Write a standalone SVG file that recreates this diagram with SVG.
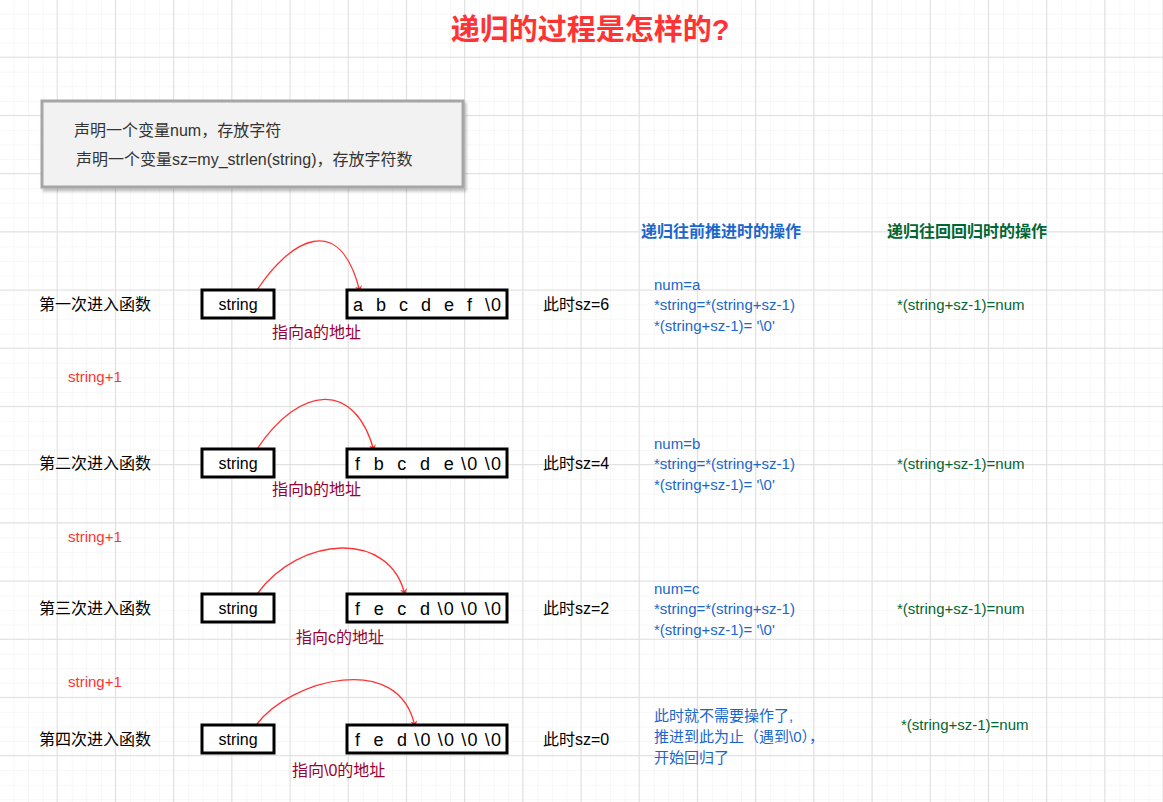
<svg xmlns="http://www.w3.org/2000/svg" width="1163" height="802" viewBox="0 0 1163 802">
<defs>
<pattern id="mi" width="14.55" height="14.55" patternUnits="userSpaceOnUse" x="-1" y="-1"><path d="M0 0H14.55M0 0V14.55" stroke="#f0f0f0" fill="none" stroke-width="1"/></pattern>
<pattern id="ma" width="58.2" height="58.2" patternUnits="userSpaceOnUse" x="-1.5" y="-1.5"><path d="M0 0.5H58.2M0.5 0V58.2" stroke="#dedede" fill="none" stroke-width="1"/></pattern>
<marker id="ah" viewBox="0 0 10 10" refX="9" refY="5" markerWidth="7" markerHeight="7" orient="auto" markerUnits="userSpaceOnUse"><path d="M0 0L10 5L0 10L3 5Z" fill="#ff3333"/></marker>
<filter id="sh"><feDropShadow dx="2" dy="3" stdDeviation="1.5" flood-color="#000" flood-opacity="0.25"/></filter>
<style>
text{font-family:"Liberation Sans","Noto Sans CJK SC",sans-serif;font-size:16px}
.lab{fill:#000}
.box{fill:#fff;stroke:#000;stroke-width:3}
.bt{font-size:16px;text-anchor:middle}
.arr{font-size:18px}
.red{fill:#ff3333;font-size:15px}
.ptr{fill:#990033;font-size:16px}
.blue{fill:#1a66cc;font-size:15px}
.green{fill:#006633;font-size:15px}
.cv{fill:none;stroke:#ff3333;stroke-width:1.3;marker-end:url(#ah)}
</style>
</defs>
<rect width="1163" height="802" fill="#fff"/>
<rect width="1163" height="802" fill="url(#mi)"/>
<rect width="1163" height="802" fill="url(#ma)"/>
<text x="590" y="40" text-anchor="middle" style="font-size:29px;font-weight:bold;fill:#ff3333">递归的过程是怎样的?</text>
<g id="decl">
<rect x="42" y="101" width="421" height="86" fill="#f2f2f2" stroke="#a6a6a6" stroke-width="3" filter="url(#sh)"/>
<text x="74" y="136" fill="#333">声明一个变量num，存放字符</text>
<text x="76" y="165" fill="#333">声明一个变量sz=my_strlen(string)，存放字符数</text>
</g>
<text x="641" y="237" style="font-weight:bold;fill:#1a66cc;font-size:16px">递归往前推进时的操作</text>
<text x="887" y="237" style="font-weight:bold;fill:#006633;font-size:16px">递归往回回归时的操作</text>
<g id="connectors">
<path class="cv" d="M257 290C290 240 340 210 360 292"/>
<path class="cv" d="M257 449C300 385 355 380 374 451"/>
<path class="cv" d="M257 594C300 535 390 530 405 595"/>
<path class="cv" d="M257 724C290 680 400 650 415 727"/>
</g>
<g id="row1">
<text x="39" y="310" class="lab">第一次进入函数</text>
<rect class="box" x="202" y="290" width="72" height="28"/><text x="238" y="310" class="bt">string</text>
<rect class="box" x="347" y="290" width="160" height="28"/><text x="353" y="311" class="arr" textLength="148" xml:space="preserve">a  b  c  d  e  f  \0</text>
<text x="272" y="338" class="ptr">指向a的地址</text>
<text x="543" y="310" class="lab">此时sz=6</text>
<text x="654" y="290" class="blue">num=a</text>
<text x="654" y="310" class="blue">*string=*(string+sz-1)</text>
<text x="654" y="331" class="blue">*(string+sz-1)= '\0'</text>
<text x="897" y="310" class="green">*(string+sz-1)=num</text>
</g>
<text x="68" y="382" class="red">string+1</text>
<g id="row2">
<text x="39" y="469" class="lab">第二次进入函数</text>
<rect class="box" x="202" y="449" width="72" height="28"/><text x="238" y="469" class="bt">string</text>
<rect class="box" x="347" y="449" width="160" height="28"/><text x="355" y="470" class="arr" textLength="146" xml:space="preserve">f  b  c  d  e \0 \0</text>
<text x="272" y="495" class="ptr">指向b的地址</text>
<text x="543" y="469" class="lab">此时sz=4</text>
<text x="654" y="449" class="blue">num=b</text>
<text x="654" y="469" class="blue">*string=*(string+sz-1)</text>
<text x="654" y="490" class="blue">*(string+sz-1)= '\0'</text>
<text x="897" y="469" class="green">*(string+sz-1)=num</text>
</g>
<text x="68" y="542" class="red">string+1</text>
<g id="row3">
<text x="39" y="614" class="lab">第三次进入函数</text>
<rect class="box" x="202" y="594" width="72" height="28"/><text x="238" y="614" class="bt">string</text>
<rect class="box" x="347" y="594" width="160" height="28"/><text x="355" y="615" class="arr" textLength="146" xml:space="preserve">f  e  c  d \0 \0 \0</text>
<text x="296" y="643" class="ptr">指向c的地址</text>
<text x="543" y="614" class="lab">此时sz=2</text>
<text x="654" y="594" class="blue">num=c</text>
<text x="654" y="614" class="blue">*string=*(string+sz-1)</text>
<text x="654" y="635" class="blue">*(string+sz-1)= '\0'</text>
<text x="897" y="614" class="green">*(string+sz-1)=num</text>
</g>
<text x="68" y="687" class="red">string+1</text>
<g id="row4">
<text x="39" y="745" class="lab">第四次进入函数</text>
<rect class="box" x="202" y="725" width="72" height="28"/><text x="238" y="745" class="bt">string</text>
<rect class="box" x="347" y="725" width="160" height="28"/><text x="355" y="746" class="arr" textLength="146" xml:space="preserve">f  e  d \0 \0 \0 \0</text>
<text x="292" y="776" class="ptr">指向\0的地址</text>
<text x="543" y="745" class="lab">此时sz=0</text>
<text x="654" y="721" class="blue">此时就不需要操作了,</text>
<text x="654" y="742" class="blue">推进到此为止（遇到\0），</text>
<text x="654" y="763" class="blue">开始回归了</text>
<text x="901" y="730" class="green">*(string+sz-1)=num</text>
</g>
</svg>
